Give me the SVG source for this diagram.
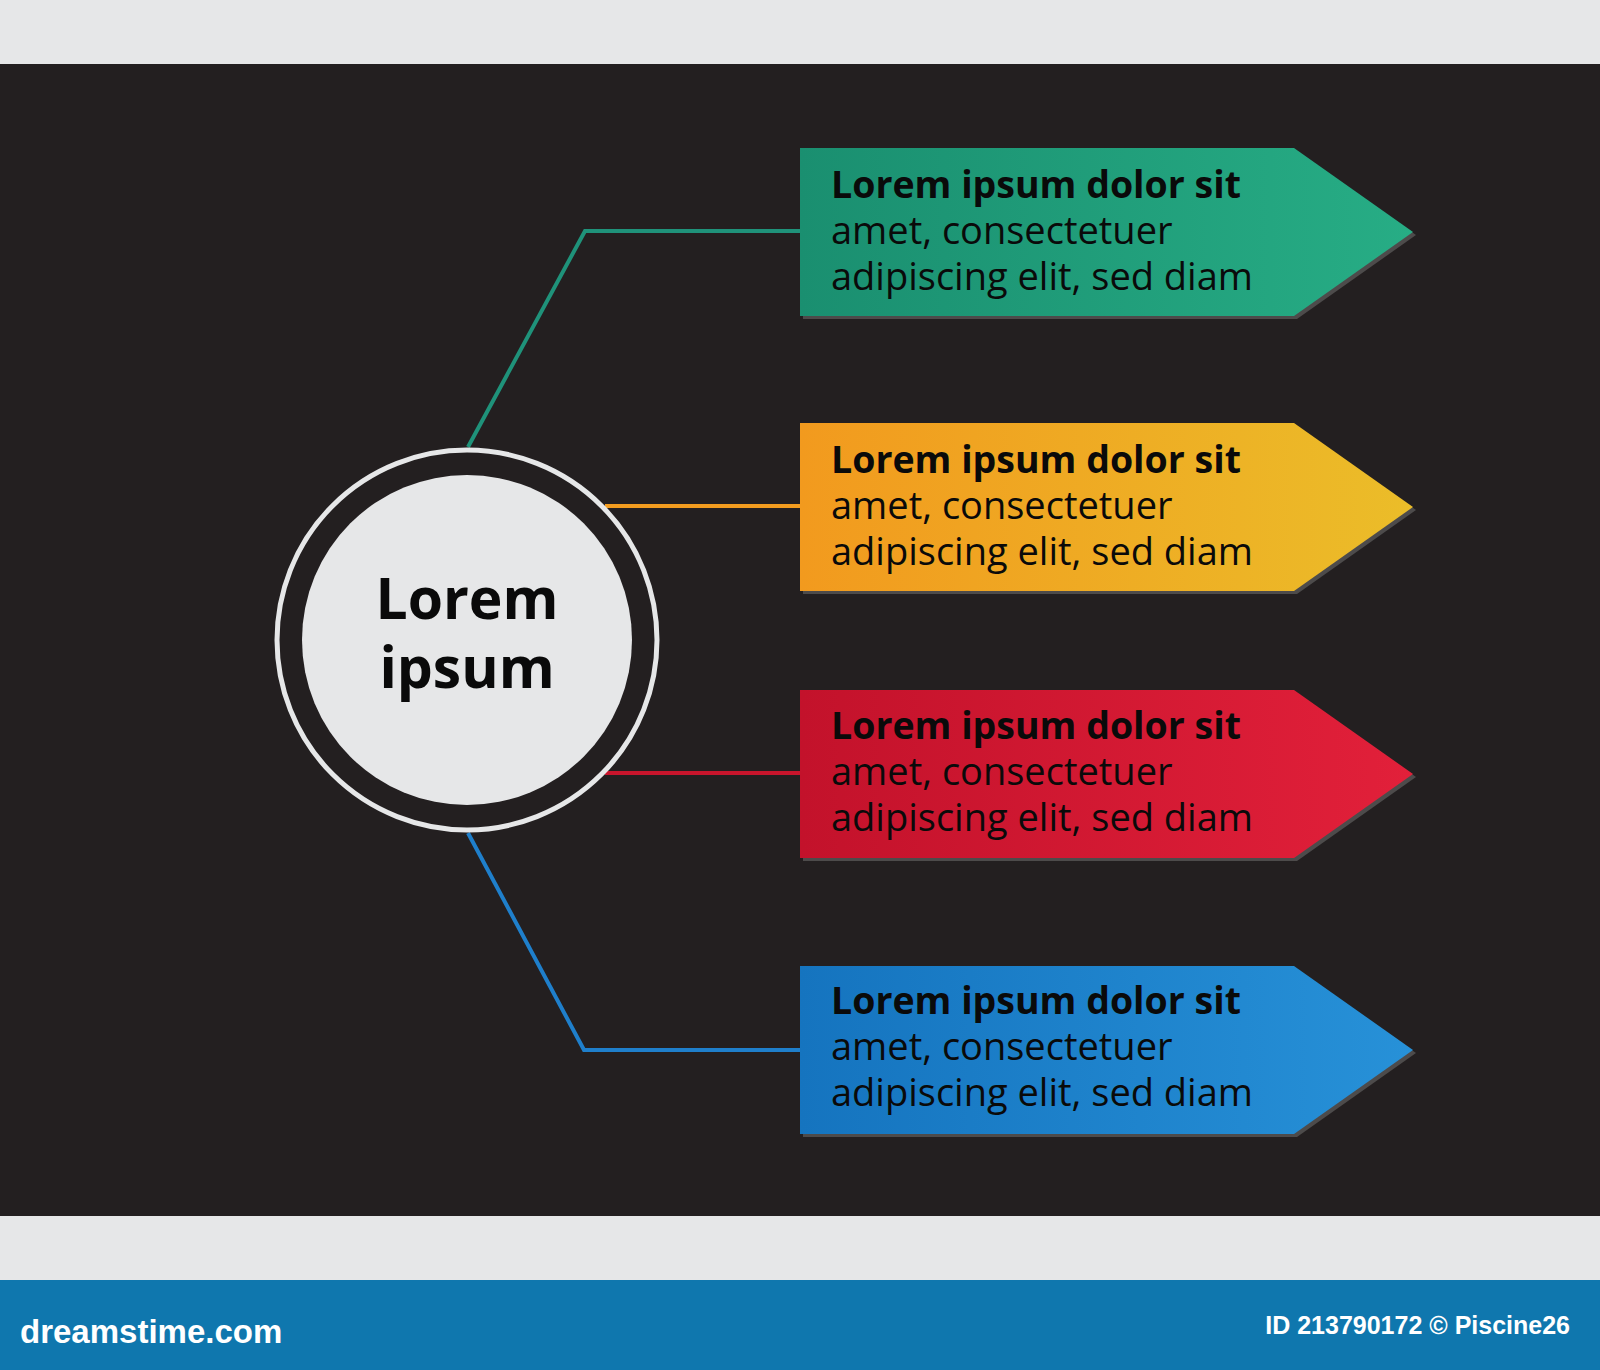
<svg xmlns="http://www.w3.org/2000/svg" width="1600" height="1370" viewBox="0 0 1600 1370">
<style>
.t{font-family:"Open Sans","Noto Sans","Liberation Sans",sans-serif;fill:#0a0a0a;font-size:38px}
.b{font-weight:700;font-size:37.5px}
.c{font-family:"Open Sans","Noto Sans","Liberation Sans",sans-serif;font-weight:700;font-size:57px;fill:#0a0a0a;text-anchor:middle}
.conn{fill:none;stroke-width:4;stroke-linejoin:miter}
.shadow{fill:#4d4b4b}
.foot{font-family:"Liberation Sans",sans-serif;fill:#ffffff;font-weight:700}
</style>
<defs>
<linearGradient id="gG" x1="0" y1="0" x2="1" y2="0"><stop offset="0" stop-color="#1a8f70"/><stop offset="1" stop-color="#27ad85"/></linearGradient>
<linearGradient id="gO" x1="0" y1="0" x2="1" y2="0"><stop offset="0" stop-color="#f29a1e"/><stop offset="1" stop-color="#ebbd29"/></linearGradient>
<linearGradient id="gR" x1="0" y1="0" x2="1" y2="0"><stop offset="0" stop-color="#c3122b"/><stop offset="1" stop-color="#e2203a"/></linearGradient>
<linearGradient id="gB" x1="0" y1="0" x2="1" y2="0"><stop offset="0" stop-color="#1574bf"/><stop offset="1" stop-color="#2791d8"/></linearGradient>
</defs>
<rect x="0" y="0" width="1600" height="64" fill="#e6e7e8"/>
<rect x="0" y="64" width="1600" height="1152" fill="#231f20"/>
<rect x="0" y="1216" width="1600" height="64" fill="#e6e7e8"/>
<rect x="0" y="1280" width="1600" height="90" fill="#0f77ae"/>

<g id="connectors">
<polyline class="conn" stroke="#1f927a" points="468,447 585,231 800,231"/>
<line class="conn" stroke="#f39c1f" x1="605" y1="506" x2="800" y2="506"/>
<line class="conn" stroke="#c8152c" x1="605" y1="773" x2="800" y2="773"/>
<polyline class="conn" stroke="#1f7fcb" points="468,833 584,1050 800,1050"/>
</g>

<g id="center">
<circle cx="467" cy="640" r="190" fill="none" stroke="#e6e7e8" stroke-width="5"/>
<circle cx="467" cy="640" r="165" fill="#e6e7e8"/>
<text class="c" x="467" y="619">Lorem</text>
<text class="c" x="467" y="688">ipsum</text>
</g>

<g id="box1">
<polygon class="shadow" points="803,151 1297,151 1416,235 1297,319 803,319"/>
<polygon fill="url(#gG)" points="800,148 1294,148 1413,232 1294,316 800,316"/>
<text class="t b" x="831" y="198">Lorem ipsum dolor sit</text>
<text class="t" x="831" y="244">amet, consectetuer</text>
<text class="t" x="831" y="290">adipiscing elit, sed diam</text>
</g>

<g id="box2">
<polygon class="shadow" points="803,426 1297,426 1416,510 1297,594 803,594"/>
<polygon fill="url(#gO)" points="800,423 1294,423 1413,507 1294,591 800,591"/>
<text class="t b" x="831" y="473">Lorem ipsum dolor sit</text>
<text class="t" x="831" y="519">amet, consectetuer</text>
<text class="t" x="831" y="565">adipiscing elit, sed diam</text>
</g>

<g id="box3">
<polygon class="shadow" points="803,693 1297,693 1416,777 1297,861 803,861"/>
<polygon fill="url(#gR)" points="800,690 1294,690 1413,774 1294,858 800,858"/>
<text class="t b" x="831" y="739">Lorem ipsum dolor sit</text>
<text class="t" x="831" y="785">amet, consectetuer</text>
<text class="t" x="831" y="831">adipiscing elit, sed diam</text>
</g>

<g id="box4">
<polygon class="shadow" points="803,969 1297,969 1416,1053 1297,1137 803,1137"/>
<polygon fill="url(#gB)" points="800,966 1294,966 1413,1050 1294,1134 800,1134"/>
<text class="t b" x="831" y="1014">Lorem ipsum dolor sit</text>
<text class="t" x="831" y="1060">amet, consectetuer</text>
<text class="t" x="831" y="1106">adipiscing elit, sed diam</text>
</g>

<g id="footer">
<text class="foot" x="20" y="1343" font-size="33">dreamstime.com</text>
<text class="foot" x="1570" y="1334" font-size="25" text-anchor="end">ID 213790172 © Piscine26</text>
</g>
</svg>
